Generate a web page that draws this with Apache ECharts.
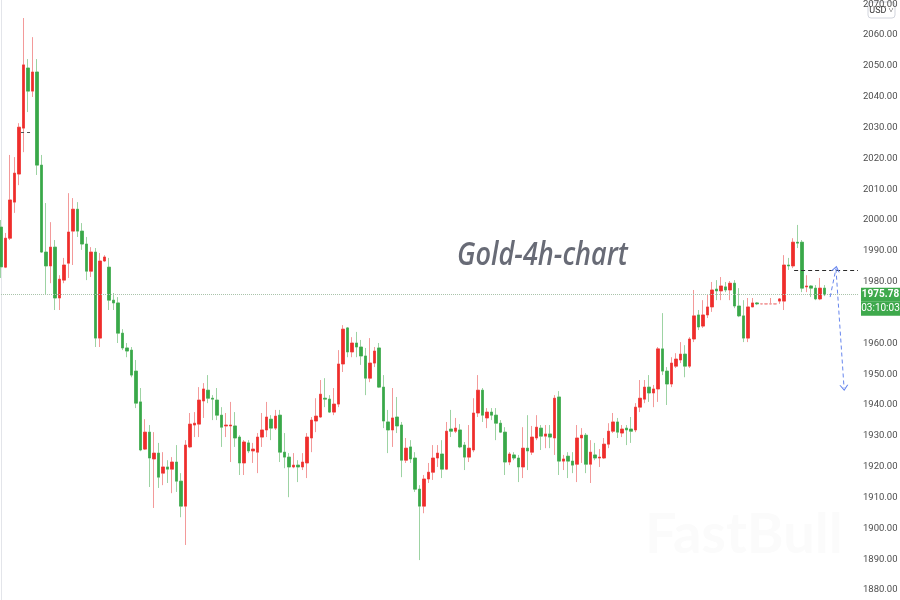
<!DOCTYPE html>
<html><head><meta charset="utf-8">
<script src="https://cdn.jsdelivr.net/npm/echarts/dist/echarts.min.js"></script>
<style>html,body{margin:0;padding:0;background:#fff}#c{width:900px;height:600px}</style>
</head><body><div id="c"></div>
<script>
// 4h gold candles (USD), oldest to newest
const opens = [1997.7,1984.7,1994.1,2005.8,2014.9,2029.8,2049.3,2041.8,2048.0,2017.8,1989.6,1985.1,1991.2,1974.7,1980.5,1986.0,1996.4,2003.5,1996.4,1992.2,1983.4,1989.6,1961.7,1986.7,1984.7,1974.0,1973.1,1963.3,1958.5,1957.8,1951.0,1941.0,1925.7,1931.2,1922.5,1924.4,1917.9,1919.9,1919.2,1921.5,1915.3,1907.2,1926.4,1933.5,1933.8,1941.3,1944.8,1942.2,1941.6,1936.7,1933.2,1933.2,1933.2,1929.6,1921.2,1927.7,1925.1,1924.7,1929.6,1931.9,1935.4,1932.5,1936.7,1924.7,1923.1,1919.9,1920.5,1919.9,1921.2,1929.3,1934.8,1936.1,1942.2,1941.9,1937.7,1940.3,1953.3,1965.0,1957.2,1960.1,1958.8,1955.9,1948.7,1953.6,1958.5,1945.8,1934.5,1931.9,1936.1,1933.5,1922.1,1926.4,1922.8,1912.7,1907.2,1916.0,1918.2,1922.8,1924.1,1919.2,1932.2,1931.5,1931.9,1927.0,1923.1,1925.4,1937.4,1944.8,1935.8,1937.7,1936.7,1934.1,1931.2,1921.5,1923.8,1922.8,1919.9,1926.0,1924.7,1929.3,1932.5,1929.9,1930.6,1929.3,1942.6,1921.8,1923.4,1921.8,1920.8,1929.3,1930.2,1920.8,1923.8,1922.8,1922.8,1927.3,1931.5,1934.5,1930.9,1932.5,1932.2,1931.9,1939.3,1941.9,1945.8,1943.9,1945.2,1958.2,1951.0,1946.8,1952.6,1954.6,1956.5,1952.6,1961.4,1969.2,1965.6,1969.2,1971.8,1977.6,1977.0,1978.3,1977.3,1979.5,1972.1,1968.9,1961.7,1971.8,1973.1,1972.8,1972.8,1972.8,1972.8,1973.7,1973.7,1985.4,1985.1,1992.8,1992.8,1978.3,1978.6,1977.9,1974.4,1977.9];
const closes = [1984.8,1994.1,2006.5,2015.2,2030.1,2050.3,2041.8,2048.0,2017.8,1989.6,1985.1,1991.2,1974.7,1980.8,1985.4,1996.1,2003.5,1996.4,1992.2,1983.4,1989.6,1961.7,1986.7,1988.0,1974.0,1973.1,1963.3,1958.5,1957.5,1949.7,1940.6,1925.4,1931.2,1922.8,1924.4,1916.6,1919.9,1919.2,1921.5,1915.3,1907.2,1927.0,1933.8,1934.1,1941.6,1945.2,1942.2,1941.9,1936.7,1932.8,1933.5,1933.5,1929.3,1921.2,1928.0,1925.1,1925.7,1929.6,1931.9,1936.1,1932.5,1936.4,1924.7,1923.1,1919.9,1920.5,1919.9,1921.5,1929.6,1935.1,1936.4,1943.5,1941.9,1937.7,1940.3,1953.3,1964.6,1957.2,1960.1,1958.8,1955.9,1948.7,1953.6,1957.5,1945.8,1934.8,1931.9,1935.8,1933.2,1922.1,1926.0,1922.5,1912.7,1907.2,1916.0,1918.2,1922.8,1924.4,1919.2,1931.5,1931.5,1932.5,1926.4,1923.1,1926.0,1937.4,1944.8,1936.7,1937.7,1936.7,1934.1,1931.2,1921.5,1924.1,1922.8,1919.9,1926.0,1925.1,1929.6,1932.8,1929.9,1930.6,1929.6,1942.2,1921.8,1922.5,1921.8,1920.5,1929.3,1930.2,1920.8,1924.7,1922.8,1923.1,1927.3,1931.5,1934.5,1931.2,1932.2,1931.9,1931.5,1939.3,1942.2,1945.8,1943.9,1945.2,1958.2,1951.0,1946.8,1953.6,1954.9,1956.5,1952.6,1961.4,1968.9,1965.3,1969.2,1971.8,1977.3,1977.0,1978.6,1977.3,1979.5,1972.1,1968.9,1961.7,1971.8,1973.1,1972.8,1972.8,1972.8,1972.8,1972.8,1974.4,1985.4,1985.1,1992.8,1992.5,1977.9,1978.6,1977.9,1974.4,1977.9,1975.78];
const lows = [1981.2,1984.4,1993.5,2002.3,2011.3,2022.0,2035.0,2039.9,2014.6,1989.3,1975.7,1979.5,1970.8,1970.8,1979.5,1981.2,1985.4,1994.5,1990.3,1980.5,1981.5,1958.8,1958.8,1986.4,1970.8,1970.8,1960.1,1957.8,1955.5,1949.0,1939.0,1925.0,1925.4,1913.4,1906.6,1913.1,1914.0,1914.7,1911.4,1911.8,1903.6,1894.6,1926.0,1929.6,1929.6,1935.8,1940.6,1935.1,1935.1,1926.4,1929.6,1921.5,1926.4,1917.3,1917.3,1924.4,1921.2,1917.9,1926.4,1929.6,1928.6,1931.9,1921.5,1919.5,1910.1,1919.5,1915.0,1918.9,1916.3,1924.7,1931.2,1935.8,1939.3,1937.4,1936.7,1939.3,1950.7,1955.5,1955.5,1955.5,1953.0,1943.2,1947.4,1952.3,1945.5,1932.5,1924.4,1926.4,1930.9,1916.6,1921.2,1921.2,1911.8,1889.7,1904.9,1914.7,1915.7,1919.9,1916.3,1918.9,1929.6,1930.9,1926.0,1918.9,1921.5,1924.7,1936.1,1934.5,1932.5,1935.1,1928.6,1930.9,1917.3,1920.5,1922.1,1915.0,1916.3,1918.9,1923.8,1928.6,1925.4,1926.0,1926.0,1923.8,1917.3,1918.9,1916.3,1917.9,1915.0,1921.2,1917.9,1914.7,1922.1,1919.9,1922.5,1926.0,1930.9,1929.3,1929.6,1927.0,1927.7,1931.2,1937.7,1940.6,1941.0,1939.3,1941.0,1949.7,1940.0,1945.8,1952.0,1953.6,1949.0,1952.0,1960.4,1964.3,1965.0,1968.2,1970.2,1974.0,1974.0,1976.6,1974.0,1971.4,1968.5,1960.4,1960.4,1971.8,1972.4,1972.8,1972.8,1972.8,1972.8,1972.8,1970.8,1983.8,1984.4,1990.9,1976.6,1976.6,1975.0,1974.0,1974.0,1975.3];
const highs = [2000.0,1995.8,2021.1,2020.4,2031.4,2065.5,2052.2,2059.3,2052.2,2021.1,2005.5,1999.3,1993.5,1982.1,1987.7,2008.7,2007.1,2005.8,1999.0,1994.5,1991.2,1990.9,1989.3,1988.6,1987.7,1976.3,1975.0,1964.6,1960.1,1958.8,1954.6,1945.5,1935.4,1933.5,1931.2,1927.7,1924.7,1922.1,1923.1,1927.0,1917.9,1928.6,1937.4,1937.7,1945.8,1947.1,1949.7,1943.2,1945.5,1939.3,1937.4,1941.0,1937.7,1930.2,1928.6,1928.6,1927.7,1930.9,1937.4,1941.0,1936.7,1938.4,1938.4,1930.9,1924.4,1924.4,1922.1,1924.4,1930.9,1936.1,1942.2,1948.1,1948.7,1943.2,1945.5,1957.8,1965.9,1965.3,1962.0,1963.7,1961.1,1958.5,1961.7,1958.8,1960.1,1949.7,1938.4,1945.5,1942.6,1934.5,1929.3,1928.6,1924.7,1914.0,1917.3,1921.2,1927.0,1927.0,1928.6,1934.5,1938.4,1935.8,1933.8,1928.0,1933.5,1942.2,1949.7,1945.5,1939.0,1939.0,1939.0,1935.1,1932.8,1924.7,1924.7,1923.8,1932.8,1936.7,1933.2,1936.7,1933.5,1933.5,1933.5,1943.2,1944.5,1923.8,1924.7,1924.7,1933.5,1932.5,1930.9,1928.6,1927.7,1925.7,1929.3,1934.1,1937.4,1935.8,1933.5,1933.5,1936.1,1940.6,1948.1,1948.1,1949.7,1946.5,1958.8,1969.8,1952.3,1955.5,1956.8,1960.4,1959.4,1962.0,1977.3,1970.8,1974.0,1975.7,1979.9,1980.5,1981.5,1979.9,1980.2,1980.5,1977.9,1974.0,1974.7,1974.7,1973.4,1972.8,1972.8,1974.7,1972.8,1974.7,1988.6,1987.7,1994.1,1998.4,1993.5,1982.1,1978.9,1978.9,1981.2,1978.9];

const slotCount = 191;                      // bar slots on the time axis (incl. empty right margin)
const categories = Array.from({length: slotCount}, (_, i) => 'bar ' + (i + 1));
const priceMin = 1870, priceMax = 2080, priceStep = 10;
const lastPrice = 1975.78;
const countdown = '03:10:03';
const titleText = 'Gold-4h-chart';
const watermarkText = 'FastBull';
const currencyText = 'USD';
// user drawings: [barIndex, price]
const levelLine = [[176.3, 1983.8], [190.5, 1983.8]];
const smallMark = [[4.4, 2028.5], [6.6, 2028.5]];
const projection = [[184.3, 1975.0], [185.6, 1984.2], [187.4, 1945.5]];

const wickData = opens.map((o, i) => [o, closes[i], lows[i], highs[i]]);
const bodyData = opens.map((o, i) => [o, closes[i], Math.min(o, closes[i]), Math.max(o, closes[i])]);

const RED = '#ef2d2b', GREEN = '#39a849', RED_W = '#f39a9a', GREEN_W = '#9dd3a3';
const chevron = 'path://M0,10 L5,0 L10,10 L8.6,10 L5,2.8 L1.4,10 Z';
const AXIS_FONT = 'Roboto';

const chart = echarts.init(document.getElementById('c'), null, {renderer: 'canvas'});
chart.setOption({
  animation: false,
  backgroundColor: '#ffffff',
  grid: {left: -1, right: 42, top: -26.67, bottom: -20.83, containLabel: false, outerBoundsMode: 'none'},
  xAxis: [
    {type: 'category', data: categories, show: false, boundaryGap: true},
    {type: 'value', min: -0.5, max: slotCount - 0.5, show: false}
  ],
  yAxis: {
    type: 'value', position: 'right', min: priceMin, max: priceMax, interval: priceStep, scale: true,
    axisLine: {show: true, lineStyle: {color: '#e3e5ea'}},
    axisTick: {show: false}, splitLine: {show: false},
    axisLabel: {color: '#4d4d4d', fontSize: 9.5, fontFamily: AXIS_FONT, margin: 5,
      formatter: v => v.toFixed(2)}
  },
  series: [
    {
      type: 'candlestick', name: 'wick', data: wickData, barWidth: 3, silent: true,
      itemStyle: {color: RED_W, color0: GREEN_W, borderColor: RED_W, borderColor0: GREEN_W, borderColorDoji: RED_W, borderWidth: 1}
    },
    {
      type: 'candlestick', name: 'body', data: bodyData, barWidth: 3, silent: true,
      itemStyle: {color: RED, color0: GREEN, borderColor: RED, borderColor0: GREEN, borderColorDoji: RED_W, borderWidth: 0.5},
      markLine: {
        silent: true, symbol: 'none', animation: false,
        lineStyle: {type: 'dotted', color: '#a9c3aa', width: 1},
        label: {
          show: true, position: 'end', distance: 3,
          formatter: () => '{e|}\n{p|' + lastPrice.toFixed(2) + '}\n{t|' + countdown + '}',
          rich: {
            e: {height: 14, lineHeight: 14},
            p: {backgroundColor: '#3ea94c', color: '#fff', fontWeight: 'bold', fontSize: 10, fontFamily: AXIS_FONT,
                width: 39, height: 14, lineHeight: 14, align: 'center'},
            t: {backgroundColor: '#3ea94c', color: '#fff', fontSize: 10, fontFamily: AXIS_FONT,
                width: 39, height: 14, lineHeight: 14, align: 'center'}
          }
        },
        data: [{yAxis: lastPrice}]
      }
    },
    {
      type: 'line', name: 'drawings', xAxisIndex: 1, data: [], silent: true,
      markLine: {
        silent: true, animation: false, symbol: 'none', label: {show: false},
        emphasis: {disabled: true},
        data: [
          [{coord: levelLine[0], lineStyle: {color: '#2b2b2b', type: [4, 3], width: 1}}, {coord: levelLine[1]}],
          [{coord: smallMark[0], lineStyle: {color: '#555', type: [3, 3], width: 1}}, {coord: smallMark[1]}],
          [{coord: projection[0], symbol: 'none', lineStyle: {color: '#6786ee', type: [4, 3], width: 1}},
           {coord: projection[1], symbol: chevron, symbolSize: [9, 6]}],
          [{coord: projection[1], symbol: 'none', lineStyle: {color: '#6786ee', type: [4, 3], width: 1}},
           {coord: projection[2], symbol: chevron, symbolSize: [9, 6]}]
        ]
      }
    }
  ],
  graphic: [
    {type: 'text', x: 457, y: 256, scaleX: 0.82, silent: true,
     style: {text: titleText, font: 'italic 600 33px "Open Sans"', fill: '#686b76', textVerticalAlign: 'middle'}},
    {type: 'text', x: 645, y: 535, silent: true, z: -1,
     style: {text: watermarkText, font: 'bold 56px Lato', fill: '#fbfbfb', textVerticalAlign: 'middle',
             shadowBlur: 5, shadowColor: 'rgba(0,0,0,0.16)', shadowOffsetY: 2}},
    {type: 'group', silent: true, children: [
      {type: 'rect', shape: {x: 868, y: 2, width: 27, height: 16, r: 3}, style: {fill: '#fff', stroke: '#d1d4dc', lineWidth: 1}},
      {type: 'text', x: 881.5, y: 10.5, style: {text: currencyText + ' \u02C5', font: '9px Roboto', fill: '#333', textAlign: 'center', textVerticalAlign: 'middle'}}
    ]}
  ]
});
</script></body></html>
